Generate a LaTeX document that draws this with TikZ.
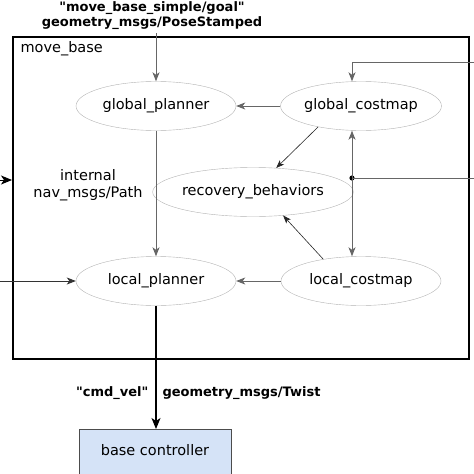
\documentclass[tikz,border=0pt]{standalone}
\usepackage{fontspec}
\setmainfont{DejaVu Sans}
\newfontfamily\msgfont{DejaVu Sans}
\usetikzlibrary{shapes.geometric,arrows.meta,positioning}
\definecolor{ctrlblue}{RGB}{213,227,247}

\begin{document}
\begin{tikzpicture}[x=1pt,y=-1pt,font=\fontsize{14.5}{16.5}\selectfont,
    proc/.style={ellipse,draw=gray!60,minimum width=160pt,minimum height=49pt,inner sep=0pt},
    topic/.style={draw=black!60,line width=0.9pt,-{Stealth[length=9pt,width=7pt,inset=2.5pt]}},
    thinarrow/.style={draw=black!85,line width=0.6pt,-{Stealth[length=8pt,width=6pt,inset=2pt]}},
    cmdarrow/.style={draw=black,line width=1.3pt,-{Stealth[length=11pt,width=9pt,inset=3pt]}},
    msglbl/.style={font=\fontsize{13}{14.5}\msgfont\bfseries}]
  \useasboundingbox (0,0) rectangle (474,474);
  \clip (0,0) rectangle (474,474);

  % move_base frame
  \node[draw,line width=2pt,minimum width=456pt,minimum height=322pt,inner sep=0pt] (mb) at (241,198) {};
  \node[anchor=base west] (mbname) at (17,52) {move\_base};

  % nodes
  \node[proc] (gp) at (156,106) {global\_planner};
  \node[proc] (gc) at (361,106) {global\_costmap};
  \node[proc] (rb) at (253,192) {recovery\_behaviors};
  \node[proc] (lp) at (156,281) {local\_planner};
  \node[proc] (lc) at (361,281) {local\_costmap};
  \node[draw=black!70,fill=ctrlblue,minimum width=152pt,minimum height=60pt,text depth=18pt,
        anchor=north] (bc) at (155,429) {base controller};

  % labels
  \node[msglbl,align=center,anchor=south] (goallbl) at (152,33) {"move\_base\_simple/goal"\\geometry\_msgs/PoseStamped};
  \node[align=center] (pathlbl) at (88,185) {internal\\nav\_msgs/Path};
  \node[msglbl,anchor=east] (vellbl) at (152,393) {"cmd\_vel"};
  \node[msglbl,anchor=west] (twistlbl) at (159,393) {geometry\_msgs/Twist};

  % connectors
  \draw[topic] (goallbl.south -| gp.north) -- (gp.north);
  \draw[topic] (gc) -- (gp);
  \draw[topic] (gp) -- (lp);
  \draw[topic] (lc) -- (lp);
  \draw[thinarrow] (gc.206) -- (rb.46);
  \draw[thinarrow] (lc.150) -- (rb.-38);

  \coordinate (jn) at (352,178);
  \fill (jn) circle (2.6pt);
  \draw[topic] (jn) -- (jn |- gc.south);
  \draw[topic] (jn) -- (jn |- lc.north);
  \coordinate (rin1) at (474,62);
  \draw[topic] (rin1) -| (jn |- gc.north);
  \coordinate (rin2) at (474,178);
  \draw[draw=black!60,line width=0.9pt] (rin2) -- (jn);

  \coordinate (lin1) at (0,180);
  \draw[cmdarrow,line width=1pt] (lin1) -- (lin1 -| mb.west);
  \coordinate (lin2) at (0,281);
  \draw[topic,draw=black!80] (lin2) -- (lp);

  \draw[cmdarrow] (lp.south) -- (lp.south |- bc.north);
\end{tikzpicture}
\end{document}
